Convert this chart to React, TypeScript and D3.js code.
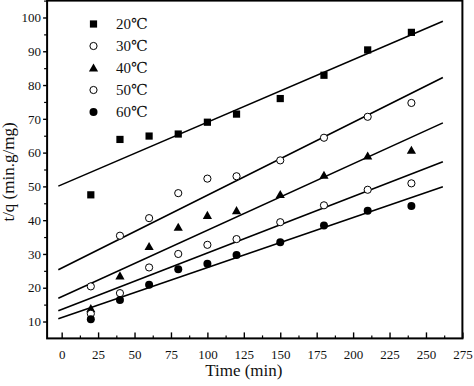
import React, { useEffect, useRef } from "react";
import * as d3 from "d3";

// sampling times (min)
const times = [20, 40, 60, 80, 100, 120, 150, 180, 210, 240];
const seriesLabels = ["20℃", "30℃", "40℃", "50℃", "60℃"];
const markers = ["square", "circleOpen", "triangle", "circleOpen", "circle"];

// t/q values
const t20 = [47.5, 63.9, 64.9, 65.5, 69.0, 71.4, 76.0, 82.9, 90.4, 95.6];
const t30 = [20.4, 35.4, 40.6, 48.0, 52.3, 53.0, 57.7, 64.4, 70.6, 74.7];
const t40 = [13.8, 23.5, 32.2, 37.9, 41.4, 42.8, 47.6, 53.3, 59.0, 60.7];
const t50 = [12.3, 18.4, 26.0, 30.0, 32.7, 34.4, 39.4, 44.4, 49.0, 50.9];
const t60 = [10.7, 16.4, 20.9, 25.5, 27.1, 29.7, 33.5, 38.4, 42.8, 44.2];

// fitted lines (pseudo-second-order)
const fitIntercepts = [50.5, 25.8, 17.35, 13.6, 11.15];
const fitSlopes = [0.185, 0.2158, 0.1967, 0.167, 0.148];
const fitRange = [-2.3, 261.6];

const xTicks = [0, 25, 50, 75, 100, 125, 150, 175, 200, 225, 250, 275];
const yTicks = [10, 20, 30, 40, 50, 60, 70, 80, 90, 100];

const FONT = "Liberation Serif, Times New Roman, DejaVu Serif, serif";

const App: React.FC = () => {
  const svgRef = useRef<SVGSVGElement>(null);

  useEffect(() => {
    if (!svgRef.current) return;
    const svg = d3.select(svgRef.current);
    svg.selectAll("*").remove();

    const x = d3.scaleLinear().domain([-10, 275]).range([47.1, 462.4]);
    const y = d3.scaleLinear().domain([5, 105]).range([338.4, 0.6]);

    const values = [t20, t30, t40, t50, t60];

    // axes - bottom ticks point inward
    const xAxis = svg
      .append("g")
      .attr("transform", `translate(0,${y(5)})`)
      .call(
        d3
          .axisBottom(x)
          .tickValues(xTicks)
          .tickSizeInner(-6)
          .tickSizeOuter(0)
          .tickPadding(11)
          .tickFormat(d3.format("d"))
      );
    xAxis.attr("font-family", FONT).attr("font-size", 13);
    xAxis.select(".domain").remove();
    xAxis.selectAll("line").attr("stroke-width", 1.4);
    xAxis.selectAll("text").attr("fill", "#111");

    const xMinor = svg
      .append("g")
      .attr("transform", `translate(0,${y(5)})`)
      .call(
        d3
          .axisBottom(x)
          .tickValues(xTicks.slice(0, -1).map((d) => d + 12.5))
          .tickSizeInner(-3)
          .tickSizeOuter(0)
          .tickFormat(() => "")
      );
    xMinor.select(".domain").remove();
    xMinor.selectAll("line").attr("stroke-width", 1.2);

    const yAxis = svg
      .append("g")
      .attr("transform", `translate(${x(-10)},0)`)
      .call(
        d3
          .axisLeft(y)
          .tickValues(yTicks)
          .tickSizeInner(4)
          .tickSizeOuter(0)
          .tickPadding(2)
          .tickFormat(d3.format("d"))
      );
    yAxis.attr("font-family", FONT).attr("font-size", 13);
    yAxis.select(".domain").remove();
    yAxis.selectAll("line").attr("stroke-width", 1.4);
    yAxis.selectAll("text").attr("fill", "#111");

    const yMinor = svg
      .append("g")
      .attr("transform", `translate(${x(-10)},0)`)
      .call(
        d3
          .axisLeft(y)
          .tickValues(yTicks.map((d) => d + 5))
          .tickSizeInner(3)
          .tickSizeOuter(0)
          .tickFormat(() => "")
      );
    yMinor.select(".domain").remove();
    yMinor.selectAll("line").attr("stroke-width", 1.2);

    // frame
    svg
      .append("rect")
      .attr("x", x(-10))
      .attr("y", y(105))
      .attr("width", x(275) - x(-10))
      .attr("height", y(5) - y(105))
      .attr("fill", "none")
      .attr("stroke", "#000")
      .attr("stroke-width", 2);

    // fit lines
    fitIntercepts.forEach((b, k) => {
      const m = fitSlopes[k];
      svg
        .append("path")
        .attr(
          "d",
          d3
            .line<number>()
            .x((t) => x(t))
            .y((t) => y(b + m * t))(fitRange)
        )
        .attr("fill", "none")
        .attr("stroke", "#000")
        .attr("stroke-width", 1.6);
    });

    const drawMarker = (
      g: d3.Selection<SVGGElement, unknown, null, undefined>,
      kind: string,
      cx: number,
      cy: number
    ) => {
      if (kind === "square") {
        g.append("rect")
          .attr("x", cx - 3.6)
          .attr("y", cy - 3.6)
          .attr("width", 7.2)
          .attr("height", 7.2)
          .attr("fill", "#000");
      } else if (kind === "triangle") {
        g.append("path")
          .attr("d", `M${cx},${cy - 4.6}L${cx + 4.6},${cy + 3.6}L${cx - 4.6},${cy + 3.6}Z`)
          .attr("fill", "#000");
      } else if (kind === "circle") {
        g.append("circle").attr("cx", cx).attr("cy", cy).attr("r", 4).attr("fill", "#000");
      } else {
        g.append("circle")
          .attr("cx", cx)
          .attr("cy", cy)
          .attr("r", 3.6)
          .attr("fill", "#fff")
          .attr("stroke", "#000")
          .attr("stroke-width", 1);
      }
    };

    // data points
    values.forEach((vals, k) => {
      const g = svg.append("g");
      vals.forEach((v, i) => drawMarker(g, markers[k], x(times[i]), y(v)));
    });

    // legend
    const legend = svg.append("g");
    seriesLabels.forEach((lab, k) => {
      const ly = 24 + k * 22;
      drawMarker(legend, markers[k], 93.5, ly);
      legend
        .append("text")
        .attr("x", 116)
        .attr("y", ly)
        .attr("dy", "0.36em")
        .attr("font-family", FONT)
        .attr("font-size", 15)
        .attr("fill", "#111")
        .text(lab);
    });

    // axis titles
    svg
      .append("text")
      .attr("x", x(125))
      .attr("y", 376)
      .attr("text-anchor", "middle")
      .attr("font-family", FONT)
      .attr("font-size", 17)
      .attr("fill", "#111")
      .text("Time (min)");

    svg
      .append("text")
      .attr("transform", `translate(14,172) rotate(-90)`)
      .attr("text-anchor", "middle")
      .attr("font-family", FONT)
      .attr("font-size", 17)
      .attr("fill", "#111")
      .text("t/q (min.g/mg)");
  }, []);

  return (
    <div style={{ position: "absolute", left: 0, top: 0 }}>
      <svg ref={svgRef} width={474} height={386} style={{ display: "block", background: "#fff" }}></svg>
    </div>
  );
};

export default App;
